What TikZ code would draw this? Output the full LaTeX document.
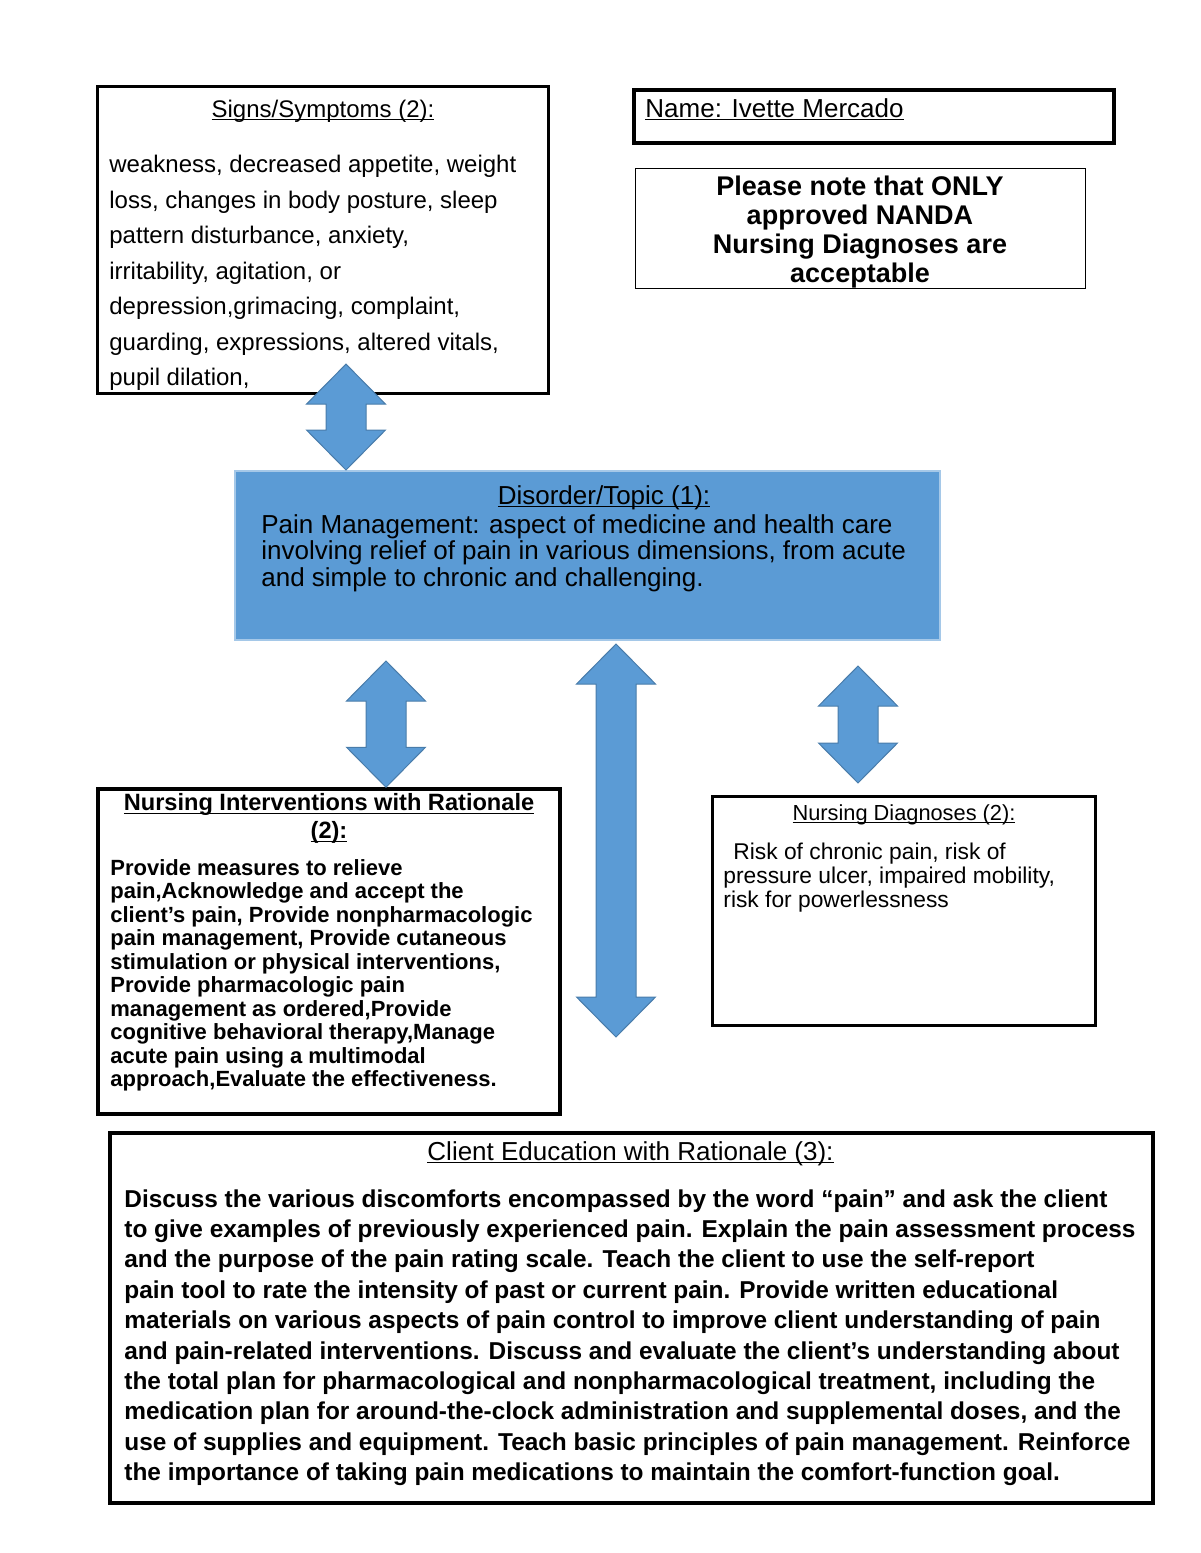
\documentclass[tikz,border=0pt]{standalone}
\usepackage{fontspec}
\setmainfont{Liberation Sans}
\usetikzlibrary{calc}
\definecolor{boxblue}{HTML}{5B9BD5}

\newcommand{\headline}[1]{\underline{\smash{#1}}\vphantom{Ad}}
\newcommand{\twoway}[2]{%
	\draw[blockarrow] let \p1=(#1), \p2=(#2) in
	(\x1,\y1) -- (\x1+19.75pt,\y1-20pt) -- (\x1+10pt,\y1-20pt) -- (\x1+10pt,\y2+20pt)
	-- (\x1+19.75pt,\y2+20pt) -- (\x1,\y2) -- (\x1-19.75pt,\y2+20pt) -- (\x1-10pt,\y2+20pt)
	-- (\x1-10pt,\y1-20pt) -- (\x1-19.75pt,\y1-20pt) -- cycle;}

\begin{document}
\begin{tikzpicture}[x=0.5pt,y=-0.5pt]
	\tikzstyle{framebox}=[draw,rectangle,inner sep=0pt,line width=1.6pt]
	\tikzstyle{heading}=[inner sep=0pt,anchor=base]
	\tikzstyle{bodytext}=[inner sep=0pt,anchor=north west,align=left]
	\tikzstyle{blockarrow}=[fill=boxblue,draw=boxblue!80!black,line width=0.5pt,line join=miter]
	
	\useasboundingbox (0,0) rectangle (1200,1553);
	
	\node[framebox,minimum width=225.5pt,minimum height=153.5pt] (signs) at (323,240) {};
	\node[heading,font=\fontsize{12}{14}\selectfont] (signshead) at (323,117) {\headline{Signs/Symptoms (2):}};
	\node[bodytext,font=\fontsize{12}{17.75}\selectfont] (signsbody) at (109,155)
	{weakness, decreased appetite, weight\\loss, changes in body posture, sleep\\pattern disturbance, anxiety,\\irritability, agitation, or\\depression,grimacing, complaint,\\guarding, expressions, altered vitals,\\pupil dilation,};
	
	\node[framebox,line width=2pt,minimum width=240pt,minimum height=26.5pt] (name) at (873.5,116) {};
	\node[heading,anchor=base west,font=\fontsize{13}{15}\selectfont] (namehead) at (645,117) {\headline{Name: Ivette Mercado}};
	
	\node[framebox,line width=0.7pt,minimum width=225pt,minimum height=60pt] (note) at (860.5,228.5) {};
	\node[bodytext,anchor=north,align=center,font=\bfseries\fontsize{13.5}{14.45}\selectfont] (notetext) at (860,176)
	{Please note that ONLY\\approved NANDA\\Nursing Diagnoses are\\acceptable};
	
	\node[rectangle,fill=boxblue,draw=boxblue!55!white,line width=1pt,inner sep=0pt,minimum width=352.5pt,minimum height=84.5pt] (disorder) at (587.5,555.5) {};
	\node[heading,font=\fontsize{13}{15}\selectfont] (disorderhead) at (604,504) {\headline{Disorder/Topic (1):}};
	\node[bodytext,font=\fontsize{13}{13.35}\selectfont] (disorderbody) at (261,514)
	{Pain Management: aspect of medicine and health care\\involving relief of pain in various dimensions, from acute\\and simple to chronic and challenging.};
	
	\node[framebox,line width=1.75pt,minimum width=231pt,minimum height=162.5pt] (interv) at (329,951.5) {};
	\node[bodytext,anchor=north,align=center,font=\bfseries\fontsize{11.8}{14}\selectfont] (intervhead) at (329,793)
	{\headline{Nursing Interventions with Rationale}\\\headline{(2):}};
	\node[bodytext,font=\bfseries\fontsize{11}{11.75}\selectfont] (intervbody) at (110,859)
	{Provide measures to relieve\\pain,Acknowledge and accept the\\client's pain, Provide nonpharmacologic\\pain management, Provide cutaneous\\stimulation or physical interventions,\\Provide pharmacologic pain\\management as ordered,Provide\\cognitive behavioral therapy,Manage\\acute pain using a multimodal\\approach,Evaluate the effectiveness.};
	
	\node[framebox,line width=1.5pt,minimum width=191.5pt,minimum height=114.5pt] (diag) at (904,911) {};
	\node[heading,font=\fontsize{10.9}{13}\selectfont] (diaghead) at (904,820) {\headline{Nursing Diagnoses (2):}};
	\node[bodytext,font=\fontsize{11.4}{12}\selectfont] (diagbody) at (723,843)
	{\hspace*{5pt}Risk of chronic pain, risk of\\pressure ulcer, impaired mobility,\\risk for powerlessness};
	
	\node[framebox,line width=2pt,minimum width=521.5pt,minimum height=185pt] (client) at (631.5,1318) {};
	\node[heading,font=\fontsize{13}{15}\selectfont] (clienthead) at (630.5,1160) {\headline{Client Education with Rationale (3):}};
	\node[bodytext,font=\bfseries\fontsize{12.2}{15.2}\selectfont] (clientbody) at (124,1189)
	{Discuss the various discomforts encompassed by the word “pain” and ask the client\\to give examples of previously experienced pain. Explain the pain assessment process\\and the purpose of the pain rating scale. Teach the client to use the self-report\\pain tool to rate the intensity of past or current pain. Provide written educational\\materials on various aspects of pain control to improve client understanding of pain\\and pain-related interventions. Discuss and evaluate the client's understanding about\\the total plan for pharmacological and nonpharmacological treatment, including the\\medication plan for around-the-clock administration and supplemental doses, and the\\use of supplies and equipment. Teach basic principles of pain management. Reinforce\\the importance of taking pain medications to maintain the comfort-function goal.};
	
	\coordinate (a3end) at (616,1037);
	\twoway{$(signs.south)+(23,-31)$}{$(signs.south |- disorder.north)+(23,0)$}
	\twoway{$(interv.north |- disorder.south)+(57,20)$}{$(interv.north)+(57,0)$}
	\twoway{$(disorder.south)+(28.5,3)$}{a3end}
	\twoway{$(diag.north |- disorder.south)+(-46,25)$}{$(diag.north)+(-46,-12)$}
\end{tikzpicture}
\end{document}
